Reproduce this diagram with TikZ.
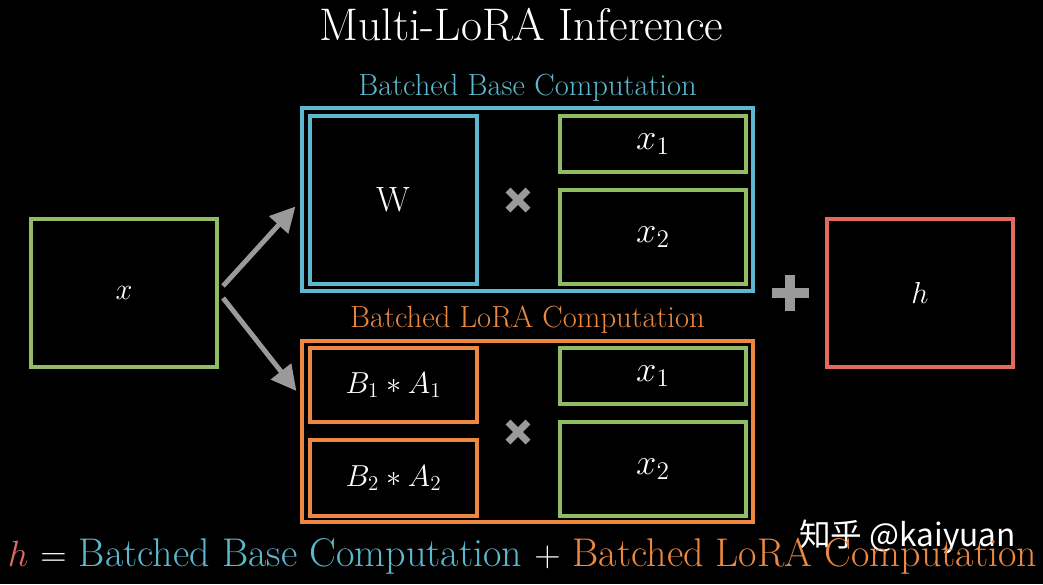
\documentclass[tikz,border=0pt]{standalone}
\usepackage{fontspec}
\usetikzlibrary{arrows.meta}
\newfontfamily\cjkfont{Noto Sans CJK SC}

\definecolor{baseblue}{HTML}{5CB8CE}
\definecolor{xgreen}{HTML}{8FBC64}
\definecolor{loraorange}{HTML}{EC8840}
\definecolor{hred}{HTML}{E26A5E}
\definecolor{symgray}{HTML}{9A9A9A}

\begin{document}
\begin{tikzpicture}[
    box/.style={rectangle, line width=1.8pt, inner sep=0pt, text=white},
    arrow/.style={-{Triangle[length=0.5cm, width=0.5cm]}, line width=2.8pt, symgray},
    lbl/.style={font=\fontsize{17.4}{20}\selectfont},
    sym/.style={line width=4pt, symgray}
]
    \fill[black] (0,0) rectangle (20.86,-11.68);
    \useasboundingbox (0,0) rectangle (20.86,-11.68);

    \node[text=white, font=\fontsize{26}{30}\selectfont] (title) at (10.43, -0.5) {Multi-LoRA Inference};

    % input and output
    \node[box, draw=xgreen, minimum width=3.72cm, minimum height=2.96cm, font=\fontsize{19}{22}\selectfont] (xin) at (2.48, -5.86) {$x$};
    \node[box, draw=hred,   minimum width=3.72cm, minimum height=2.96cm, font=\fontsize{19}{22}\selectfont] (hout) at (18.40, -5.86) {$h$};

    % base computation
    \node[box, draw=baseblue, minimum width=9.02cm, minimum height=3.66cm] (base) at (10.55, -3.99) {};
    \node[lbl, text=baseblue] (baselbl) at (10.55, -1.76) {Batched Base Computation};
    \node[box, draw=baseblue, minimum width=3.34cm, minimum height=3.36cm, font=\fontsize{20}{24}\selectfont] (w) at (7.87, -4.0) {W};
    \node[box, draw=xgreen, minimum width=3.72cm, minimum height=1.12cm, font=\fontsize{20}{24}\selectfont] (bx1) at (13.06, -2.88) {$x_1$};
    \node[box, draw=xgreen, minimum width=3.72cm, minimum height=1.88cm, font=\fontsize{20}{24}\selectfont] (bx2) at (13.06, -4.74) {$x_2$};

    % lora computation
    \node[box, draw=loraorange, minimum width=9.02cm, minimum height=3.62cm] (lora) at (10.55, -8.63) {};
    \node[lbl, text=loraorange] (loralbl) at (10.55, -6.40) {Batched LoRA Computation};
    \node[box, draw=loraorange, minimum width=3.34cm, minimum height=1.48cm, font=\fontsize{17}{20}\selectfont] (ba1) at (7.87, -7.70) {$B_1 * A_1$};
    \node[box, draw=loraorange, minimum width=3.34cm, minimum height=1.52cm, font=\fontsize{17}{20}\selectfont] (ba2) at (7.87, -9.56) {$B_2 * A_2$};
    \node[box, draw=xgreen, minimum width=3.72cm, minimum height=1.12cm, font=\fontsize{20}{24}\selectfont] (lx1) at (13.06, -7.52) {$x_1$};
    \node[box, draw=xgreen, minimum width=3.72cm, minimum height=1.88cm, font=\fontsize{20}{24}\selectfont] (lx2) at (13.06, -9.38) {$x_2$};

    % operators
    \coordinate (mul1) at (10.36, -4.0);
    \coordinate (mul2) at (10.36, -8.64);
    \coordinate (add) at (15.80, -5.86);
    \foreach \c in {mul1, mul2} {
        \draw[sym] ([shift={(-0.2,-0.2)}]\c) -- ([shift={(0.2,0.2)}]\c);
        \draw[sym] ([shift={(-0.2,0.2)}]\c) -- ([shift={(0.2,-0.2)}]\c);
    }
    \draw[sym, line width=5.6pt] ([xshift=-0.37cm]add) -- ([xshift=0.37cm]add);
    \draw[sym, line width=5.6pt] ([yshift=-0.36cm]add) -- ([yshift=0.36cm]add);

    \draw[arrow] ([shift={(0.09,0.14)}]xin.east) -- ([shift={(-0.1,-0.14)}]base.west);
    \draw[arrow] ([shift={(0.09,-0.10)}]xin.east) -- ([shift={(-0.08,-0.12)}]ba1.west -| lora.west);

    % equation and watermark
    \node[text=white, font=\cjkfont\fontsize{18}{21}\selectfont] (mark) at (18.15, -10.74) {知乎 @kaiyuan};
    \node[text=white, font=\fontsize{22.8}{27}\selectfont] (eq) at (10.45, -11.12)
        {\textcolor{hred}{$h$} $=$ \textcolor{baseblue}{Batched Base Computation} $+$ \textcolor{loraorange}{Batched LoRA Computation}};
\end{tikzpicture}
\end{document}
